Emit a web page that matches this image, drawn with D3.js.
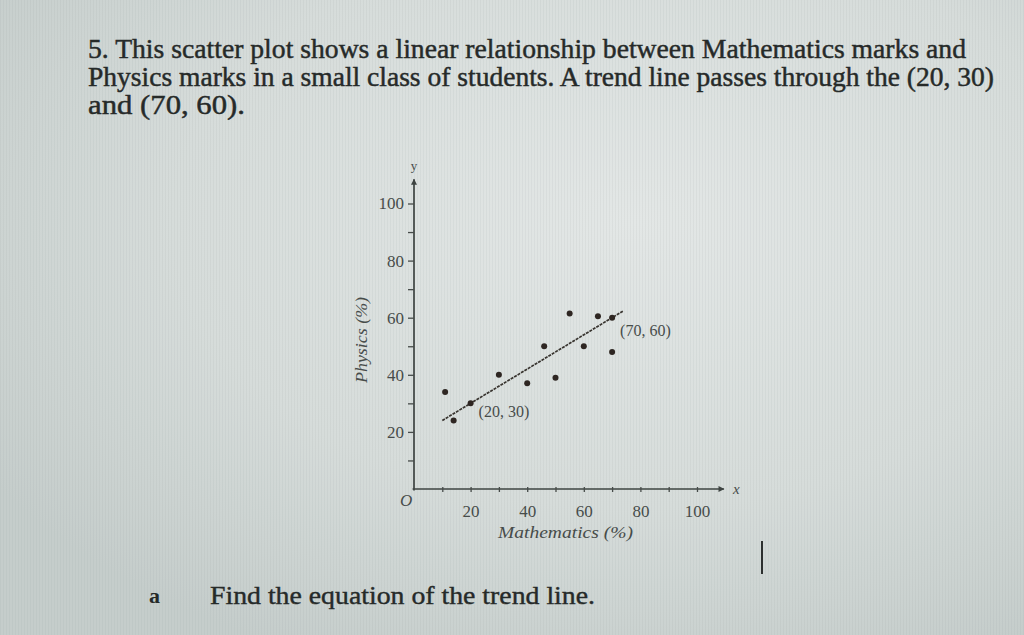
<!DOCTYPE html>
<html>
<head>
<meta charset="utf-8">
<script src="https://cdn.jsdelivr.net/npm/d3@7"></script>
<style>
  html, body { margin: 0; padding: 0; background: #d6dbda; }
  svg { display: block; }
</style>
</head>
<body>
<div id="chart"></div>
<script>
// Page size
const width = 1024;
const height = 635;

// Question text
const questionLines = [
    "5. This scatter plot shows a linear relationship between Mathematics marks and",
    "Physics marks in a small class of students. A trend line passes through the (20, 30)",
    "and (70, 60)."
];
const questionWidths = [878, 906, 157];
const partLetter = "a";
const partText = "Find the equation of the trend line.";

// Scatter data
const mathMarks    = [11, 14, 20, 30, 40, 46, 50, 55, 60, 65, 70, 70];
const physicsMarks = [34, 24, 30, 40, 37, 50, 39, 61.5, 50, 60.5, 60, 48];

// Trend line end points
const trendX = [10, 74];
const trendY = [24, 62.4];

// Labelled points on the trend line
const labelNames = ["(20, 30)", "(70, 60)"];
const labelX = [20, 70];
const labelY = [30, 60];

// Ticks
const xTicks = [10, 20, 30, 40, 50, 60, 70, 80, 90, 100];
const xTickLabels = [20, 40, 60, 80, 100];
const yTicks = [10, 20, 30, 40, 50, 60, 70, 80, 90, 100];
const yTickLabels = [20, 40, 60, 80, 100];

const svg = d3.select("#chart")
    .append("svg")
        .attr("width", width)
        .attr("height", height);

// Background, looks like a photo of a screen
const defs = svg.append("defs");
const bg = defs.append("radialGradient")
    .attr("id", "bg")
    .attr("cx", "0.62").attr("cy", "0.35").attr("r", "0.75");
bg.append("stop").attr("offset", "0%").attr("stop-color", "#e3e7e6");
bg.append("stop").attr("offset", "60%").attr("stop-color", "#d6dcda");
bg.append("stop").attr("offset", "100%").attr("stop-color", "#c5cdcb");

const stripes = defs.append("pattern")
    .attr("id", "stripes")
    .attr("width", 3).attr("height", 10)
    .attr("patternUnits", "userSpaceOnUse");
stripes.append("rect")
    .attr("width", 1).attr("height", 10)
    .attr("fill", "#8a9593").attr("opacity", 0.09);

defs.append("marker")
    .attr("id", "arrow")
    .attr("viewBox", "0 0 10 10")
    .attr("refX", 9).attr("refY", 5)
    .attr("markerWidth", 9).attr("markerHeight", 6)
    .attr("markerUnits", "userSpaceOnUse")
    .attr("orient", "auto")
  .append("path")
    .attr("d", "M0,0L10,5L0,10z")
    .attr("fill", "#3e4442");

svg.append("rect").attr("width", width).attr("height", height).attr("fill", "url(#bg)");
svg.append("rect").attr("width", width).attr("height", height).attr("fill", "url(#stripes)");

// Question text
svg.append("g")
    .selectAll("text")
    .data(questionLines)
    .join("text")
        .attr("x", 88)
        .attr("y", (d, i) => 58 + i * 28)
        .attr("textLength", (d, i) => questionWidths[i])
        .attr("lengthAdjust", "spacingAndGlyphs")
        .style("font-family", "'Liberation Serif', serif")
        .style("font-size", "27px")
        .style("fill", "#262a29")
        .style("stroke", "#262a29")
        .style("stroke-width", 0.45)
        .text(d => d);

svg.append("text")
    .attr("x", 149).attr("y", 603)
    .style("font-family", "'Liberation Serif', serif")
    .style("font-size", "22px")
    .style("font-weight", "bold")
    .style("fill", "#262a29")
    .text(partLetter);

svg.append("text")
    .attr("x", 210).attr("y", 604)
    .attr("textLength", 385)
    .attr("lengthAdjust", "spacingAndGlyphs")
    .style("font-family", "'Liberation Serif', serif")
    .style("font-size", "26px")
    .style("fill", "#262a29")
    .style("stroke", "#262a29")
    .style("stroke-width", 0.4)
    .text(partText);

// Text cursor in the photo
svg.append("line")
    .attr("x1", 762).attr("x2", 762)
    .attr("y1", 541).attr("y2", 574)
    .attr("stroke", "#2c302f")
    .attr("stroke-width", 2);

// Scales
const x = d3.scaleLinear()
    .domain([0, 100])
    .range([414, 697]);

const y = d3.scaleLinear()
    .domain([0, 100])
    .range([489, 203.5]);

const chartFont = "'Liberation Serif', 'Times New Roman', serif";
const chartInk = "#474c4a";

// Axes lines with arrows
svg.append("line")
    .attr("x1", x(-0.5)).attr("x2", x(109.5))
    .attr("y1", y(0)).attr("y2", y(0))
    .attr("stroke", "#3e4442").attr("stroke-width", 1.7)
    .attr("marker-end", "url(#arrow)");

svg.append("line")
    .attr("x1", x(0)).attr("x2", x(0))
    .attr("y1", y(-0.5)).attr("y2", y(108.5))
    .attr("stroke", "#3e4442").attr("stroke-width", 1.7)
    .attr("marker-end", "url(#arrow)");

// X axis ticks
const xAxis = svg.append("g")
    .attr("transform", `translate(0,${y(0)})`)
    .call(d3.axisBottom(x)
        .tickValues(xTicks)
        .tickSize(4)
        .tickPadding(12)
        .tickFormat(d => xTickLabels.includes(d) ? d : ""));
xAxis.select(".domain").remove();
xAxis.selectAll(".tick line")
    .attr("y1", -2).attr("y2", 3)
    .attr("stroke", chartInk).attr("stroke-width", 1.3);
xAxis.selectAll(".tick text")
    .style("font-family", chartFont)
    .style("font-size", "17px")
    .style("fill", chartInk);

// Y axis ticks
const yAxis = svg.append("g")
    .attr("transform", `translate(${x(0)},0)`)
    .call(d3.axisLeft(y)
        .tickValues(yTicks)
        .tickSize(6)
        .tickPadding(4)
        .tickFormat(d => yTickLabels.includes(d) ? d : ""));
yAxis.select(".domain").remove();
yAxis.selectAll(".tick line")
    .attr("stroke", chartInk).attr("stroke-width", 1.3);
yAxis.selectAll(".tick text")
    .style("font-family", chartFont)
    .style("font-size", "17px")
    .style("fill", chartInk);

// Axis names
svg.append("text")
    .attr("x", x(109.5) + 9).attr("y", y(0) + 5)
    .style("font-family", chartFont).style("font-style", "italic")
    .style("font-size", "15px").style("fill", chartInk)
    .text("x");

svg.append("text")
    .attr("x", x(0)).attr("y", y(108.5) - 9)
    .attr("text-anchor", "middle")
    .style("font-family", chartFont)
    .style("font-size", "13px").style("fill", chartInk)
    .text("y");

svg.append("text")
    .attr("x", x(0) - 14).attr("y", y(0) + 17)
    .style("font-family", chartFont).style("font-style", "italic")
    .style("font-size", "17px").style("fill", chartInk)
    .text("O");

svg.append("text")
    .attr("x", 498).attr("y", 538)
    .attr("textLength", 135)
    .attr("lengthAdjust", "spacingAndGlyphs")
    .style("font-family", chartFont).style("font-style", "italic")
    .style("font-size", "17px").style("fill", chartInk)
    .text("Mathematics (%)");

svg.append("text")
    .attr("transform", "translate(367,340) rotate(-90)")
    .attr("text-anchor", "middle")
    .attr("textLength", 86)
    .attr("lengthAdjust", "spacingAndGlyphs")
    .style("font-family", chartFont).style("font-style", "italic")
    .style("font-size", "17px").style("fill", chartInk)
    .text("Physics (%)");

// Trend line
svg.append("line")
    .attr("x1", x(trendX[0])).attr("y1", y(trendY[0]))
    .attr("x2", x(trendX[1])).attr("y2", y(trendY[1]))
    .attr("stroke", "#38342f")
    .attr("stroke-width", 1.7)
    .attr("stroke-dasharray", "3,1");

// Points
svg.append("g")
    .selectAll("circle")
    .data(mathMarks)
    .join("circle")
        .attr("cx", d => x(d))
        .attr("cy", (d, i) => y(physicsMarks[i]))
        .attr("r", 3)
        .style("fill", "#2e2622");

// Point labels
svg.append("g")
    .selectAll("text")
    .data(labelNames)
    .join("text")
        .attr("x", (d, i) => x(labelX[i]) + 8)
        .attr("y", (d, i) => y(labelY[i]) + (i === 0 ? 14 : 18))
        .style("font-family", chartFont)
        .style("font-size", "16px")
        .style("fill", chartInk)
        .text(d => d);
</script>
</body>
</html>
